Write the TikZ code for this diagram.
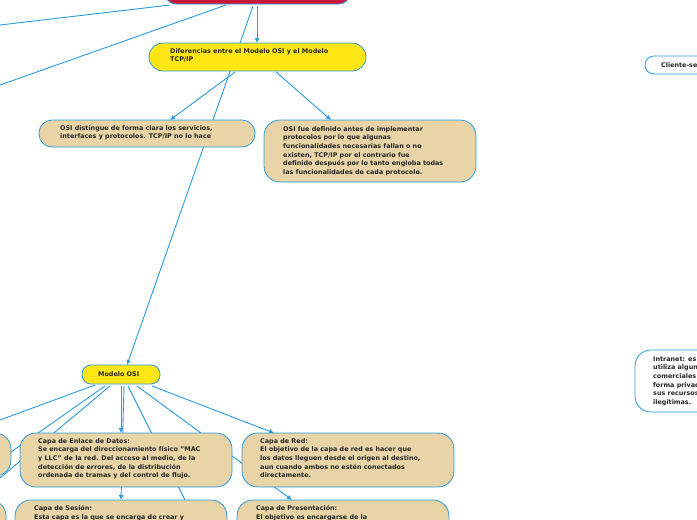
\documentclass[tikz,border=0pt]{standalone}
\usepackage{fontspec}
\setmainfont{DejaVu Sans}
\usetikzlibrary{calc,arrows.meta}
\definecolor{tan}{HTML}{E8D4A6}
\definecolor{yel}{HTML}{FFE614}
\definecolor{edge}{HTML}{2A9BDB}
\definecolor{crim}{HTML}{C8173B}
\tikzset{
 box/.style={draw=edge,line width=0.8pt,rounded corners=11pt,inner sep=0pt,anchor=north west},
 txt/.style={font=\bfseries\fontsize{6.4}{8.7}\selectfont,align=left,anchor=north west,inner sep=0pt,text=black!85},
 con/.style={draw=edge,line width=0.9pt},
 arr/.style={con,-{Latex[length=5pt,width=5pt]}},
}
\begin{document}
\begin{tikzpicture}[x=1pt,y=-1pt]
\useasboundingbox (0,0) rectangle (697,520);
\clip (0,0) rectangle (697,520);
\coordinate (offA) at (0,25);
\coordinate (offB) at (0,85);
\coordinate (offC) at (0,420);
\coordinate (offD) at (0,478);
% connectors
\draw[con] (170,5) -- (offA);
\draw[con] (226,5) -- (offB);
\draw[arr] (253,6) -- (127,365);
\draw[arr] (257,6) -- (257,43);
\draw[arr] (235,72) -- (170,120);
\draw[arr] (276,72) -- (331,120);
\draw[con] (95,385) -- (offC);
\draw[con] (105,386) -- (11,452);
\draw[con] (110,386) -- (offD);
\draw[arr] (121,386) -- (121,433);
\draw[arr] (124,386) -- (121,500);
\draw[con] (128,386) -- (185,500);
\draw[arr] (137,386) -- (292,500);
\draw[arr] (152,386) -- (274,433);
% top red node
\draw[box,fill=crim] (165,-14) rectangle (350,4);
\draw[box,fill=yel,rounded corners=14pt] (149,43) rectangle (366,71);
\node[txt] (dif) at (170,48) {Diferencias entre el Modelo OSI y el Modelo\\TCP/IP};
\draw[box,fill=tan,rounded corners=13pt] (39,120) rectangle (255,147);
\node[txt] (osi1) at (60,125) {OSI distingue de forma clara los servicios,\\interfaces y protocolos. TCP/IP no lo hace};
\draw[box,fill=tan,rounded corners=16pt] (264,120) rectangle (476,182);
\node[txt] (osi2) at (283,126) {OSI fue definido antes de implementar\\protocolos por lo que algunas\\funcionalidades necesarias fallan o no\\existen, TCP/IP por el contrario fue\\definido después por lo tanto engloba todas\\las funcionalidades de cada protocolo.};
\draw[box,fill=yel,rounded corners=9pt] (82,365) rectangle (160,384);
\node[txt] (mod) at (98,371) {Modelo OSI};
\draw[box,fill=tan,rounded corners=16pt] (-20,433) rectangle (11,476);
\draw[box,fill=tan,rounded corners=16pt] (-20,500) rectangle (6,560);
\draw[box,fill=tan,rounded corners=16pt] (20,433) rectangle (232,487);
\node[txt] (enl) at (38,438) {Capa de Enlace de Datos:\\Se encarga del direccionamiento físico "MAC\\y LLC" de la red. Del acceso al medio, de la\\detección de errores, de la distribución\\ordenada de tramas y del control de flujo.};
\draw[box,fill=tan,rounded corners=16pt] (242,433) rectangle (454,487);
\node[txt] (red) at (260,438) {Capa de Red:\\El objetivo de la capa de red es hacer que\\los datos lleguen desde el origen al destino,\\aun cuando ambos no estén conectados\\directamente.};
\draw[box,fill=tan,rounded corners=16pt] (15,500) rectangle (227,560);
\node[txt] (ses) at (34,505) {Capa de Sesión:\\Esta capa es la que se encarga de crear y};
\draw[box,fill=tan,rounded corners=16pt] (237,500) rectangle (449,560);
\node[txt] (pre) at (256,505) {Capa de Presentación:\\El objetivo es encargarse de la};
\draw[box,fill=white,rounded corners=9pt] (645,56) rectangle (720,74);
\node[txt] (cli) at (661,62) {Cliente-servidor};
\draw[box,fill=white,rounded corners=16pt] (635,350) rectangle (760,412);
\node[txt] (intra) at (653,356) {Intranet: es una red que\\utiliza algunas aplicaciones\\comerciales de Internet de\\forma privada para proteger\\sus recursos de personas\\ilegitimas.};
\end{tikzpicture}
\end{document}
